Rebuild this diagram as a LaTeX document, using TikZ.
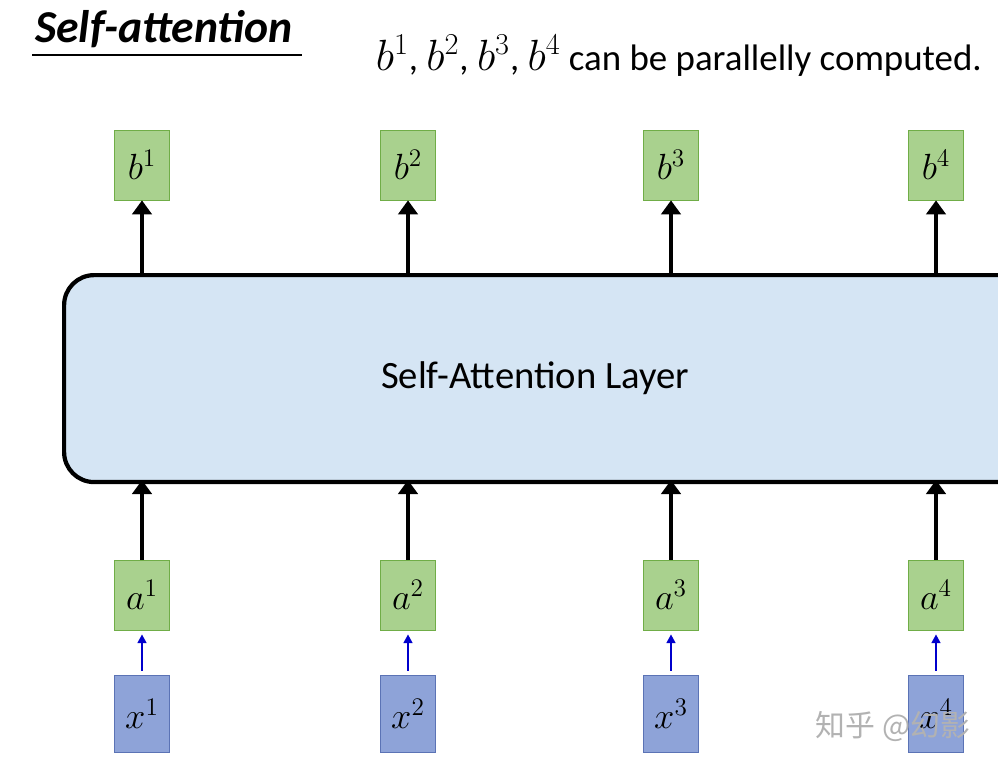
\documentclass[tikz,border=0pt]{standalone}
\usepackage{fontspec}
\setmainfont{Carlito}
\newfontfamily\cjk{Noto Sans CJK SC}
\usetikzlibrary{arrows.meta}
\definecolor{gfill}{HTML}{A9D18E}
\definecolor{gline}{HTML}{70AD47}
\definecolor{xfill}{HTML}{8EA3D8}
\definecolor{xline}{HTML}{5B73B5}
\definecolor{lfill}{HTML}{D5E5F4}
\newcommand{\bm}[1]{{\fontsize{23}{24}\selectfont$b^{#1}$}}
\begin{document}
\begin{tikzpicture}[x=0.02cm,y=-0.02cm,
  gbox/.style={draw=gline,fill=gfill,minimum width=1.1cm,minimum height=1.4cm,inner sep=0pt,font=\fontsize{21}{24}\selectfont},
  xbox/.style={draw=xline,fill=xfill,minimum width=1.1cm,minimum height=1.55cm,inner sep=0pt,font=\fontsize{21}{24}\selectfont},
  thickarr/.style={line width=2.4pt,-{Triangle[length=8pt,width=11pt]}},
  bluearr/.style={draw=blue!80!black,line width=1.2pt,-{Triangle[length=5pt,width=5pt]}}]
\useasboundingbox (0,0) rectangle (998,768);
\clip (0,0) rectangle (998,768);
\node[anchor=west,font=\fontsize{26}{30}\selectfont\bfseries\itshape] (title) at (29,29) {Self-attention};
\draw[line width=0.8pt] (32,55) -- (302,55);
\node[anchor=east,font=\fontsize{21}{24}\selectfont] (note) at (988,56) {\bm{1}, \bm{2}, \bm{3}, \bm{4} can be parallelly computed.};
\node[draw,line width=2.4pt,rounded corners=0.6cm,fill=lfill,minimum width=19.7cm,minimum height=4.14cm,anchor=north west] (layer) at (62,273) {};
\node[font=\fontsize{22}{26}\selectfont] (lt) at (535,378) {Self-Attention Layer};
\foreach \i/\x in {1/142,2/408,3/671,4/936}{
  \node[gbox] (b\i) at (\x,165) {$b^{\i}$};
  \node[gbox] (a\i) at (\x,595) {$a^{\i}$};
  \node[xbox] (x\i) at (\x,714) {$x^{\i}$};
  \coordinate (lt\i) at (\x,273);
  \coordinate (lb\i) at (\x,480);
  \draw[thickarr] (lt\i) -- (b\i.south);
  \draw[thickarr] (a\i.north) -- (lb\i);
  \draw[bluearr] (x\i.north) ++(0,-4) -- ([yshift=-0.08cm]a\i.south);
}
\node[text=gray!60,font=\cjk\fontsize{17}{20}\selectfont] (wm) at (893,727) {知乎 @幻影};
\end{tikzpicture}
\end{document}
